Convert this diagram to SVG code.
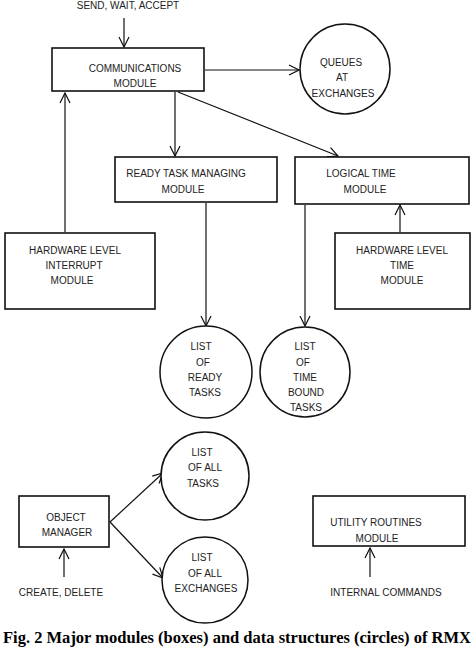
<svg xmlns="http://www.w3.org/2000/svg" width="474" height="648" viewBox="0 0 474 648">
<style>
.box{fill:#fff;stroke:#111;stroke-width:1.6}
.circ{fill:#fff;stroke:#111;stroke-width:1.5}
.ln{fill:none;stroke:#111;stroke-width:1.2}
text{font-family:"Liberation Sans",Arial,sans-serif;font-size:10px;fill:#222;text-anchor:middle;dominant-baseline:central}
.cap{font-family:"Liberation Serif","Times New Roman",serif;font-size:16px;font-weight:bold;fill:#000;text-anchor:start;dominant-baseline:alphabetic}
</style>
<defs>
<marker id="ah" viewBox="0 0 12 12" refX="11" refY="6" markerWidth="12" markerHeight="12" markerUnits="userSpaceOnUse" orient="auto">
<path d="M1,1 L11,6 L1,11" fill="none" stroke="#111" stroke-width="1.2"/>
</marker>
</defs>
<rect width="474" height="648" fill="#fff"/>
<g id="connectors">
<line class="ln" x1="124" y1="18" x2="124" y2="47" marker-end="url(#ah)"/>
<line class="ln" x1="205" y1="70" x2="299" y2="70" marker-end="url(#ah)"/>
<line class="ln" x1="65" y1="232" x2="65" y2="93" marker-end="url(#ah)"/>
<line class="ln" x1="175" y1="92" x2="175" y2="156" marker-end="url(#ah)"/>
<line class="ln" x1="178" y1="92" x2="338" y2="156" marker-end="url(#ah)"/>
<line class="ln" x1="400" y1="232" x2="400" y2="205" marker-end="url(#ah)"/>
<line class="ln" x1="206" y1="203" x2="206" y2="326" marker-end="url(#ah)"/>
<line class="ln" x1="305" y1="205" x2="305" y2="326" marker-end="url(#ah)"/>
<line class="ln" x1="110" y1="522" x2="163" y2="473" marker-end="url(#ah)"/>
<line class="ln" x1="110" y1="522" x2="163" y2="578" marker-end="url(#ah)"/>
<line class="ln" x1="64" y1="577" x2="64" y2="549" marker-end="url(#ah)"/>
<line class="ln" x1="370" y1="577" x2="370" y2="548" marker-end="url(#ah)"/>
</g>
<text id="label-send" x="128" y="5">SEND, WAIT, ACCEPT</text>
<g id="comm">
<rect class="box" x="52" y="48" width="152" height="43"/>
<text x="135" y="68">COMMUNICATIONS</text>
<text x="135" y="83">MODULE</text>
</g>
<g id="queues">
<circle class="circ" cx="345" cy="69" r="45"/>
<text x="341" y="62">QUEUES</text>
<text x="342" y="77">AT</text>
<text x="343" y="93">EXCHANGES</text>
</g>
<g id="ready">
<rect class="box" x="115" y="157" width="162" height="45"/>
<text x="186" y="173">READY TASK MANAGING</text>
<text x="183" y="189">MODULE</text>
</g>
<g id="logical">
<rect class="box" x="295" y="157" width="174" height="47"/>
<text x="361" y="173">LOGICAL TIME</text>
<text x="365" y="189">MODULE</text>
</g>
<g id="hwint">
<rect class="box" x="5" y="233" width="150" height="76"/>
<text x="75" y="250">HARDWARE LEVEL</text>
<text x="74" y="265">INTERRUPT</text>
<text x="72" y="280">MODULE</text>
</g>
<g id="hwtime">
<rect class="box" x="335" y="233" width="135" height="76"/>
<text x="402" y="250">HARDWARE LEVEL</text>
<text x="402" y="265">TIME</text>
<text x="402" y="280">MODULE</text>
</g>
<g id="listready">
<circle class="circ" cx="206" cy="372" r="46"/>
<text x="201" y="346">LIST</text>
<text x="203" y="362">OF</text>
<text x="205" y="377">READY</text>
<text x="205" y="392">TASKS</text>
</g>
<g id="listtime">
<circle class="circ" cx="305" cy="372" r="45"/>
<text x="305" y="346">LIST</text>
<text x="303" y="362">OF</text>
<text x="305" y="377">TIME</text>
<text x="306" y="392">BOUND</text>
<text x="306" y="407">TASKS</text>
</g>
<g id="listalltasks">
<circle class="circ" cx="205" cy="476" r="44"/>
<text x="202" y="452">LIST</text>
<text x="205" y="467">OF ALL</text>
<text x="203" y="483">TASKS</text>
</g>
<g id="objmgr">
<rect class="box" x="19" y="496" width="90" height="51"/>
<text x="66" y="517">OBJECT</text>
<text x="67" y="532">MANAGER</text>
</g>
<g id="listallexch">
<circle class="circ" cx="205" cy="580" r="43"/>
<text x="202" y="557">LIST</text>
<text x="205" y="573">OF ALL</text>
<text x="206" y="588">EXCHANGES</text>
</g>
<g id="utility">
<rect class="box" x="313" y="496" width="152" height="50"/>
<text x="376" y="522">UTILITY ROUTINES</text>
<text x="377" y="538">MODULE</text>
</g>
<text id="label-create" x="61" y="592">CREATE, DELETE</text>
<text id="label-internal" x="386" y="592">INTERNAL COMMANDS</text>
<text class="cap" x="3" y="643" textLength="468" lengthAdjust="spacingAndGlyphs">Fig. 2  Major modules (boxes) and data structures (circles) of RMX</text>
</svg>
